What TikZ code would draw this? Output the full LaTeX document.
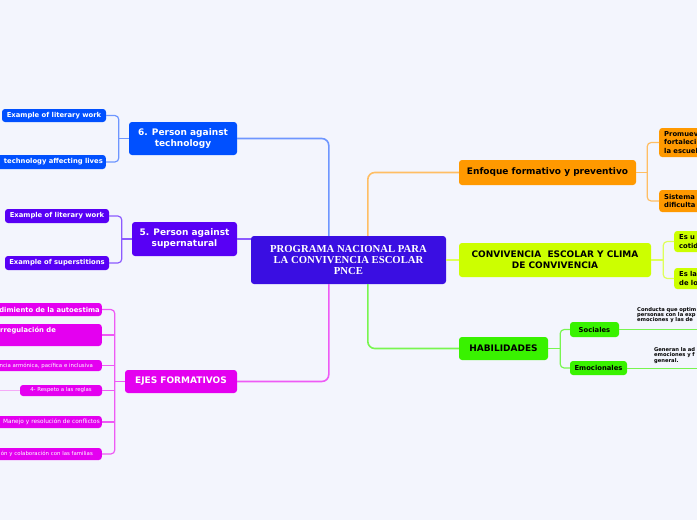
\documentclass[tikz,border=0pt]{standalone}
\usepackage{fontspec}
\setmainfont{DejaVu Sans}
\newfontfamily\serifb{Liberation Serif}
\definecolor{bg}{RGB}{243,245,253}
\definecolor{cmain}{RGB}{58,14,226}
\definecolor{cblue}{RGB}{0,80,255}
\definecolor{cblueL}{RGB}{110,150,255}
\definecolor{cpur}{RGB}{88,0,245}
\definecolor{cpurL}{RGB}{140,90,255}
\definecolor{cmag}{RGB}{228,0,240}
\definecolor{cmagL}{RGB}{238,90,245}
\definecolor{cmagP}{RGB}{245,170,248}
\definecolor{corg}{RGB}{255,153,0}
\definecolor{corgL}{RGB}{255,190,100}
\definecolor{cyg}{RGB}{204,255,0}
\definecolor{cygL}{RGB}{222,255,90}
\definecolor{cgrn}{RGB}{57,242,0}
\definecolor{cgrnL}{RGB}{120,245,80}
\begin{document}
\begin{tikzpicture}[x=1pt,y=-1pt,
  box/.style={rectangle, rounded corners=3pt, inner sep=0pt, align=center},
  bigf/.style={font=\bfseries\fontsize{9}{11}\selectfont},
  smf/.style={font=\bfseries\fontsize{6.8}{8.3}\selectfont},
  tinyf/.style={font=\fontsize{5.4}{6}\selectfont},
  notef/.style={font=\bfseries\fontsize{5.2}{5.3}\selectfont, align=left, inner sep=0pt},
  link/.style={line width=1.6pt, rounded corners=7pt},
  sublink/.style={line width=1.2pt, rounded corners=4pt}]
\useasboundingbox (0,0) rectangle (697,520);
\clip (0,0) rectangle (697,520);
\fill[bg] (0,0) rectangle (697,520);

% central
\node[box, fill=cmain, text=white, minimum width=195pt, minimum height=48pt,
  font=\serifb\bfseries\fontsize{10.7}{11}\selectfont] (center) at (348.5,260)
  {PROGRAMA NACIONAL PARA\\LA CONVIVENCIA ESCOLAR\\PNCE};

% 6. Person against technology
\node[box, bigf, fill=cblue, text=white, minimum width=108pt, minimum height=33pt] (p6) at (183,138.5) {6. Person against\\technology};
\node[box, smf, fill=cblue, text=white, minimum width=104pt, minimum height=13pt] (p6a) at (54,115.5) {Example of literary work};
\node[box, smf, fill=cblue, text=white, minimum width=150pt, minimum height=14pt, text width=144pt, align=right, anchor=east] (p6b) at (106,162) {technology affecting lives};

% 5. Person against supernatural
\node[box, bigf, fill=cpur, text=white, minimum width=105pt, minimum height=34pt] (p5) at (184.5,239) {5. Person against\\supernatural};
\node[box, smf, fill=cpur, text=white, minimum width=104pt, minimum height=14pt] (p5a) at (57,216) {Example of literary work};
\node[box, smf, fill=cpur, text=white, minimum width=104pt, minimum height=14pt] (p5b) at (57,263) {Example of superstitions};

% EJES FORMATIVOS
\node[box, bigf, fill=cmag, text=white, minimum width=112pt, minimum height=23pt] (ejes) at (181,381.5) {EJES FORMATIVOS};
\coordinate (ejb) at ([xshift=-10pt]ejes.west);
\node[box, smf, fill=cmag, text=white, minimum width=150pt, minimum height=13pt, text width=146pt, align=right, anchor=east] (e1) at (102,309.5) {dimiento de la autoestima};
\node[box, fill=cmag, minimum width=150pt, minimum height=22pt, anchor=east] (e2) at (102,335) {};
\node[smf, text=white, anchor=west, inner sep=0pt] (e2t) at (0,331) {rregulación de};
\node[box, tinyf, fill=cmag, text=white, minimum width=150pt, minimum height=11pt, text width=132pt, align=right, anchor=east] (e3) at (102,365.5) {ncia armónica, pacífica e inclusiva};
\node[box, tinyf, fill=cmag, text=white, minimum width=82pt, minimum height=11pt] (e4) at (61,390.5) {4- Respeto a las reglas};
\node[box, tinyf, fill=cmag, text=white, minimum width=150pt, minimum height=12pt, text width=146pt, align=right, anchor=east, font=\fontsize{5.8}{6}\selectfont] (e5) at (102,422) {Manejo y resolución de conflictos};
\node[box, tinyf, fill=cmag, text=white, minimum width=150pt, minimum height=12pt, text width=132pt, align=right, anchor=east] (e6) at (102,454) {ón y colaboración con las familias};
\coordinate (e4l) at (-5,390.5);

% Enfoque
\node[box, bigf, fill=corg, minimum width=177pt, minimum height=25pt] (enf) at (547.5,172.5) {Enfoque formativo y preventivo};
\node[box, smf, fill=corg, minimum width=60pt, minimum height=29pt, text width=50pt, align=left, anchor=west] (enf1) at (659,142.5) {Promuev\\fortaleci\\la escuel};
\node[box, smf, fill=corg, minimum width=60pt, minimum height=22pt, text width=50pt, align=left, anchor=west] (enf2) at (659,201) {Sistema\\dificulta};

% Convivencia
\node[box, bigf, fill=cyg, minimum width=192pt, minimum height=34pt] (conv) at (555,260) {CONVIVENCIA\ \ ESCOLAR Y CLIMA\\DE CONVIVENCIA};
\node[box, smf, fill=cyg, minimum width=40pt, minimum height=21pt, text width=30pt, align=left, anchor=west] (conv1) at (674,241.5) {Es u\\cotid};
\node[box, smf, fill=cyg, minimum width=40pt, minimum height=21pt, text width=30pt, align=left, anchor=west] (conv2) at (674,278.5) {Es la\\de lo};

% Habilidades
\node[box, bigf, fill=cgrn, minimum width=89pt, minimum height=23pt] (hab) at (503.5,348.5) {HABILIDADES};
\node[box, smf, fill=cgrn, minimum width=49pt, minimum height=15pt] (soc) at (594.5,329.5) {Sociales};
\node[box, smf, fill=cgrn, minimum width=57pt, minimum height=14pt] (emo) at (598.5,368) {Emocionales};
\coordinate (socR) at (702,329.5);
\coordinate (emoR) at (702,368);
\node[notef, anchor=west] (note1) at (637,315) {Conducta que optim\\personas con la exp\\emociones y las de};
\node[notef, anchor=west] (note2) at (654,355.5) {Generan la ad\\emociones y f\\general.};

% main connectors
\draw[link, cblueL] (p6.east) -| ([xshift=78pt]center.north west);
\draw[link, cpurL] (p5.east) -- (p5.east -| center.west);
\draw[link, cmagL] (ejes.east) -| ([xshift=78pt]center.south west);
\draw[link, corgL] (enf.west) -| ([xshift=117pt]center.north west);
\draw[link, cygL] (center.east) -- (conv.west);
\draw[link, cgrnL] (hab.west) -| ([xshift=117pt]center.south west);

% sub connectors
\draw[sublink, cblueL] (p6a.east) -| ([xshift=-10pt]p6.west) |- (p6b.east);
\draw[sublink, cblueL] (p6.west) -- ([xshift=-10pt]p6.west);
\draw[sublink, cpurL] (p5a.east) -| ([xshift=-10pt]p5.west) |- (p5b.east);
\draw[sublink, cpurL] (p5.west) -- ([xshift=-10pt]p5.west);
\draw[sublink, cmagL] (e1.east) -| (ejb) |- (e6.east);
\draw[sublink, cmagL] (ejes.west) -- (ejb);
\draw[sublink, cmagL] (e2.east) -- (e2.east -| ejb);
\draw[sublink, cmagL] (e3.east) -- (e3.east -| ejb);
\draw[sublink, cmagL] (e4.east) -- (e4.east -| ejb);
\draw[sublink, cmagL] (e5.east) -- (e5.east -| ejb);
\draw[sublink, cmagP] (e4.west) -- (e4l);
\draw[sublink, corgL] (enf1.west) -| ([xshift=11pt]enf.east) |- (enf2.west);
\draw[sublink, corgL] (enf.east) -- ([xshift=11pt]enf.east);
\draw[sublink, cygL] (conv1.west) -| ([xshift=12pt]conv.east) |- (conv2.west);
\draw[sublink, cygL] (conv.east) -- ([xshift=12pt]conv.east);
\draw[sublink, cgrnL] (soc.west) -| ([xshift=12pt]hab.east) |- (emo.west);
\draw[sublink, cgrnL] (hab.east) -- ([xshift=12pt]hab.east);
\draw[line width=1pt, cgrnL] (soc.east) -- (socR);
\draw[line width=1pt, cgrnL] (emo.east) -- (emoR);
\end{tikzpicture}
\end{document}
